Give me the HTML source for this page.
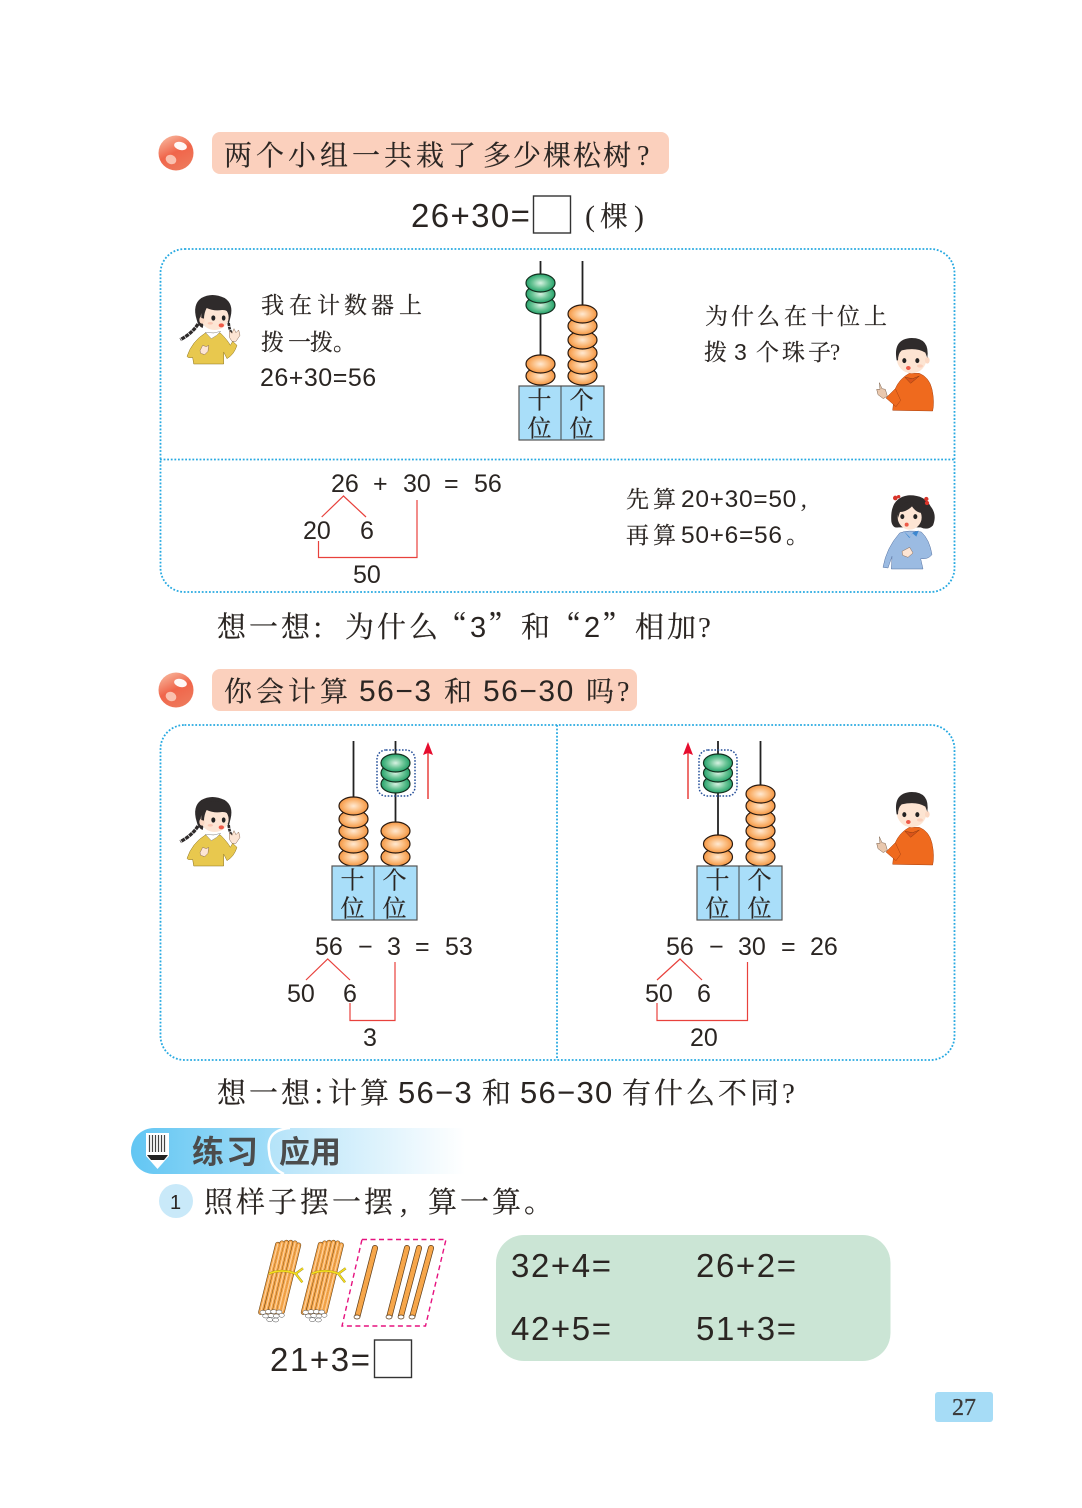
<!DOCTYPE html>
<html><head><meta charset="utf-8"><style>
html,body{margin:0;padding:0;background:#fff}
svg{display:block}
text{fill:#2a2522}
.d{font-family:"Liberation Sans",sans-serif}
.s{font-family:"Liberation Serif","Noto Serif CJK SC",serif}
.k{font-family:"Noto Serif CJK SC","Liberation Serif",serif;stroke:#2a2522;stroke-width:.18}
.f{font-size:25px}
.b{font-size:33px;letter-spacing:1.6px}
</style></head><body>
<svg width="1082" height="1508" viewBox="0 0 1082 1508" xmlns="http://www.w3.org/2000/svg">
<defs>
<radialGradient id="go" cx=".5" cy=".5" r=".55"><stop offset="0" stop-color="#ffe9d2"/><stop offset=".5" stop-color="#fbbd80"/><stop offset="1" stop-color="#f38d34"/></radialGradient>
<radialGradient id="gg" cx=".5" cy=".5" r=".55"><stop offset="0" stop-color="#d8f2e2"/><stop offset=".5" stop-color="#6cc597"/><stop offset="1" stop-color="#149a60"/></radialGradient>
<linearGradient id="ball" x1=".2" y1="0" x2=".7" y2="1"><stop offset="0" stop-color="#f8b69c"/><stop offset=".5" stop-color="#f0654a"/><stop offset="1" stop-color="#ee7a5c"/></linearGradient>
<linearGradient id="band" x1="0" x2="1"><stop offset="0" stop-color="#62c6f3"/><stop offset=".45" stop-color="#a5def8"/><stop offset="1" stop-color="#fff"/></linearGradient>
<linearGradient id="tab2" x1="0" x2="1"><stop offset="0" stop-color="#b4e3f9"/><stop offset="1" stop-color="#fff"/></linearGradient>
<ellipse id="o" cx="0" cy="0" rx="14.5" ry="9" fill="url(#go)" stroke="#2a1a10" stroke-width="1.2"/>
<ellipse id="g" cx="0" cy="0" rx="14.5" ry="9" fill="url(#gg)" stroke="#14301f" stroke-width="1.2"/>
<g id="ballg">
<circle cx="0" cy="0" r="17.500" fill="url(#ball)"/>
<ellipse cx="4.500" cy="-7" rx="6.500" ry="4" fill="#fff" opacity=".95" transform="rotate(15 4.500 -7)"/>
<ellipse cx="-5" cy="6.500" rx="5.500" ry="4.500" fill="#fbd0c0" opacity=".85" transform="rotate(25 -5 6.500)"/>
</g>
<g id="box">
<rect x="0.5" y="0.5" width="85" height="54" fill="#a9def9" stroke="#555" stroke-width="1.2"/>
<line x1="42.5" y1="0" x2="42.5" y2="54" stroke="#444" stroke-width="1"/>
<text class="k" x="9" y="23" font-size="24">十</text><text class="k" x="51" y="23" font-size="24">个</text>
<text class="k" x="9" y="51" font-size="24">位</text><text class="k" x="51" y="51" font-size="24">位</text>
</g>
<g id="girl1" transform="translate(172,288) scale(.3333)">
<path d="M78 108 Q62 135 25 155" stroke="#2e2a2a" stroke-width="10" fill="none" stroke-dasharray="12 2"/>
<path d="M170 105 Q172 125 180 140" stroke="#2e2a2a" stroke-width="8" fill="none" stroke-dasharray="9 2"/>
<path d="M45 205 Q60 160 100 135 L145 135 Q168 158 175 172 L182 160 L195 172 Q186 200 165 212 L155 192 L155 228 L65 228 L62 208 Q50 212 45 205Z" fill="#e8c84e" stroke="#8a7020" stroke-width="1.500"/>
<path d="M100 133 L118 152 L134 142 L146 130 L125 135Z" fill="#fff" stroke="#888" stroke-width="1.500"/>
<path d="M84 188 L92 172 L103 176 L110 172 L108 190 L98 200 L86 196Z" fill="#fde5d4" stroke="#8a6a55" stroke-width="1.500"/>
<path d="M172 148 L172 128 L180 136 L186 122 L192 134 L200 126 L204 142 L192 160 L180 160Z" fill="#fde5d4" stroke="#8a6a55" stroke-width="1.500"/>
<path d="M74 95 Q60 50 88 30 Q120 12 158 30 Q185 48 176 85 L170 110 L150 60 L105 62 L92 120 Q78 115 74 95Z" fill="#2f2b2b"/>
<ellipse cx="128" cy="88" rx="42" ry="38" fill="#fde5d4"/>
<ellipse cx="90" cy="96" rx="8" ry="11" fill="#fcd9c4"/>
<path d="M88 90 Q85 45 115 35 Q160 28 175 70 L172 80 Q168 65 150 66 Q125 70 104 60 Q96 75 96 92Z" fill="#2f2b2b"/>
<ellipse cx="124" cy="90" rx="6" ry="8" fill="#222"/><ellipse cx="155" cy="90" rx="5.500" ry="8" fill="#222"/>
<ellipse cx="148" cy="112" rx="8" ry="6" fill="#ee5a48"/>
<ellipse cx="115" cy="106" rx="8" ry="4" fill="#fac8b4"/>
</g>
<g id="boy" transform="translate(870,332) scale(.3333)">
<path d="M68 235 L75 172 Q88 140 118 124 L148 124 Q178 136 186 172 Q194 210 188 237Z" fill="#ef6a1e" stroke="#a84010" stroke-width="1.500"/>
<path d="M76 170 L48 198 L78 224 L92 205Z" fill="#ef6a1e" stroke="#a84010" stroke-width="1.500"/>
<path d="M28 152 L36 170 L46 172 L52 192 L40 200 L24 188 L20 172 L30 172Z" fill="#e9c8ae" stroke="#7a5f4a" stroke-width="1.500"/>
<path d="M105 136 L122 154 L148 132 L128 140Z" fill="#d9541a" stroke="#8a3a10" stroke-width="1.500"/>
<ellipse cx="125" cy="78" rx="45" ry="46" fill="#fde4d2"/>
<ellipse cx="172" cy="85" rx="7" ry="10" fill="#fcd9c4"/>
<path d="M80 85 Q68 20 125 18 Q180 18 172 78 L166 62 Q140 45 95 55 Q84 65 84 85Z" fill="#2f2b2b"/>
<ellipse cx="103" cy="86" rx="6" ry="7.500" fill="#222"/><ellipse cx="142" cy="86" rx="6" ry="7.500" fill="#222"/>
<ellipse cx="115" cy="108" rx="7" ry="6" fill="#ee5a48"/>
<ellipse cx="150" cy="102" rx="9" ry="5" fill="#fbcfba"/>
</g>
<g id="bundlep">
<g fill="none" stroke-linecap="round">
<g stroke="#6a4518" stroke-width="15"><path d="M68 28 L17 232"/><path d="M81 24 L30 236"/><path d="M94 22 L43 238"/><path d="M107 22 L56 238"/><path d="M120 24 L69 236"/><path d="M131 30 L82 230"/></g>
<g stroke="#f6a64a" stroke-width="11.500"><path d="M68 28 L17 232"/><path d="M81 24 L30 236"/><path d="M94 22 L43 238"/><path d="M107 22 L56 238"/><path d="M120 24 L69 236"/><path d="M131 30 L82 230"/></g>
<g stroke="#fdd3a2" stroke-width="3.500"><path d="M68 28 L17 232"/><path d="M81 24 L30 236"/><path d="M94 22 L43 238"/><path d="M107 22 L56 238"/><path d="M120 24 L69 236"/><path d="M131 30 L82 230"/></g>
</g>
<g fill="#fff" stroke="#444" stroke-width="1.500"><ellipse cx="24" cy="232" rx="9" ry="6"/><ellipse cx="40" cy="230" rx="9" ry="6"/><ellipse cx="56" cy="230" rx="9" ry="6"/><ellipse cx="72" cy="231" rx="9" ry="6"/><ellipse cx="32" cy="243" rx="9" ry="6"/><ellipse cx="48" cy="242" rx="9" ry="6"/><ellipse cx="64" cy="243" rx="9" ry="6"/><ellipse cx="80" cy="241" rx="8" ry="6"/><ellipse cx="44" cy="254" rx="9" ry="6"/><ellipse cx="62" cy="255" rx="9" ry="6"/></g>
<path d="M42 116 Q80 100 122 116 L144 100 M122 116 L142 142" fill="none" stroke="#7a6a10" stroke-width="7"/>
<path d="M42 116 Q80 100 122 116 L144 100 M122 116 L142 142" fill="none" stroke="#f6de1e" stroke-width="5"/>
</g>
</defs>

<!-- section 1 header -->
<use href="#ballg" x="176" y="153"/>
<rect x="212" y="132" width="457" height="42" rx="8" fill="#fbd0bd"/>
<text class="k" y="165" font-size="28" x="224 256 288 320 352 384 416 448 483 513 543 573 603 633">两个小组一共栽了多少棵松树</text>
<text class="s" x="637" y="165" font-size="28">?</text>

<text class="d b" x="411" y="227" style="letter-spacing:1.400px">26+30=</text>
<rect x="533.500" y="196" width="37" height="37" fill="#fff" stroke="#333" stroke-width="1.4"/>
<text class="s" x="585" y="226" font-size="30">(</text>
<text class="k" x="600" y="226" font-size="28">棵</text>
<text class="s" x="634" y="226" font-size="30">)</text>

<!-- panel 1 -->
<rect x="160.500" y="249" width="794" height="343" rx="24" fill="none" stroke="#27a9e1" stroke-width="1.8" stroke-dasharray="1.8 1.8"/>
<line x1="160" y1="459.500" x2="955" y2="459.500" stroke="#27a9e1" stroke-width="1.8" stroke-dasharray="1.8 1.8"/>

<use href="#girl1"/>
<text class="k" y="313" font-size="23" x="261 289 317 344 371 399">我在计数器上</text>
<text class="k" y="350" font-size="23" x="261 288 310 333">拨一拨。</text>
<text class="d f" x="260" y="386" style="letter-spacing:.5px">26+30=56</text>

<!-- abacus 1 -->
<line x1="540.500" y1="261" x2="540.500" y2="386" stroke="#222" stroke-width="1.8"/>
<line x1="582.500" y1="261" x2="582.500" y2="386" stroke="#222" stroke-width="1.8"/>
<use href="#g" x="540.500" y="305"/><use href="#g" x="540.500" y="294"/><use href="#g" x="540.500" y="283"/>
<use href="#o" x="540.500" y="376"/><use href="#o" x="540.500" y="364"/>
<use href="#o" x="582.500" y="376"/><use href="#o" x="582.500" y="365"/><use href="#o" x="582.500" y="353"/><use href="#o" x="582.500" y="340"/><use href="#o" x="582.500" y="326"/><use href="#o" x="582.500" y="314"/>
<use href="#box" x="518.500" y="385.500"/>

<text class="k" y="324" font-size="23" x="705 731 757 784 811 837 864">为什么在十位上</text>
<text class="k" y="360" font-size="23" x="704">拨</text>
<text class="d" x="734" y="360" font-size="23">3</text>
<text class="k" y="360" font-size="23" x="756 782 808">个珠子</text>
<text class="s" x="830" y="360" font-size="23">?</text>
<use href="#boy"/>

<!-- formula 1 -->
<g class="d f">
<text x="331" y="492">26</text><text x="373" y="492">+</text><text x="403" y="492">30</text><text x="444" y="492">=</text><text x="474" y="492">56</text>
<text x="303" y="539">20</text><text x="360" y="539">6</text><text x="353" y="583">50</text>
</g>
<path d="M321.700 517 L343.500 496 L366 517" fill="none" stroke="#e8413c" stroke-width="1.2"/>
<path d="M318.500 541 V557.500 H417 V500" fill="none" stroke="#e8413c" stroke-width="1.2"/>

<text class="k" y="507" font-size="23" x="626 653">先算</text>
<text class="d" x="681" y="507" font-size="24.500" style="letter-spacing:.7px">20+30=50</text>
<text class="k" y="507" font-size="23" x="800">,</text>
<text class="k" y="543" font-size="23" x="626 653">再算</text>
<text class="d" x="681" y="543" font-size="24.500" style="letter-spacing:.7px">50+6=56</text>
<text class="k" y="543" font-size="23" x="786">。</text>

<!-- girl 2 -->
<g transform="translate(878,488) scale(.3333)">
<path d="M40 243 L42 205 L30 240 L15 238 Q25 180 65 135 Q90 125 130 132 Q155 155 162 200 Q150 215 128 212 L135 243Z" fill="#9bbbe2" stroke="#5570a0" stroke-width="1.500"/>
<path d="M40 100 Q35 30 90 22 Q140 20 158 55 Q178 80 165 112 Q150 128 128 118 L62 118 Q44 122 40 100Z" fill="#2f2b2b"/>
<ellipse cx="95" cy="88" rx="36" ry="37" fill="#fde5d4"/>
<path d="M60 90 Q58 50 90 42 Q120 40 132 75 Q115 75 102 55 Q85 72 66 72Z" fill="#2f2b2b"/>
<ellipse cx="73" cy="86" rx="6" ry="7.500" fill="#222"/><ellipse cx="112" cy="86" rx="6" ry="7.500" fill="#222"/>
<ellipse cx="86" cy="110" rx="6" ry="6" fill="#ee5a48"/>
<path d="M76 128 L96 148 L105 133 L122 128 L115 146 L104 136 L94 150Z" fill="#3c87d0"/>
<path d="M72 190 L95 178 L105 195 L90 208 L74 202Z" fill="#fde5d4" stroke="#8a6a55" stroke-width="1.500"/>
<circle cx="52" cy="30" r="7" fill="#d8342a"/><circle cx="62" cy="26" r="5" fill="#d8342a"/><circle cx="145" cy="33" r="6.500" fill="#d8342a"/><circle cx="147" cy="45" r="6.500" fill="#d8342a"/>
</g>

<text class="k" y="637" font-size="29" x="217 249 281 313 345 377 409">想一想:为什么</text>
<text class="k" y="637" font-size="29" x="438">“</text><text class="d" x="470" y="637" font-size="29">3</text><text class="k" y="637" font-size="29" x="488">”</text>
<text class="k" y="637" font-size="29" x="521">和</text>
<text class="k" y="637" font-size="29" x="552">“</text><text class="d" x="584" y="637" font-size="29">2</text><text class="k" y="637" font-size="29" x="602">”</text>
<text class="k" y="637" font-size="29" x="635 667">相加</text><text class="s" x="698" y="637" font-size="29">?</text>

<!-- section 2 header -->
<use href="#ballg" x="176" y="690"/>
<rect x="212" y="669" width="425" height="42" rx="8" fill="#fbd0bd"/>
<text class="k" y="701" font-size="28" x="224 256 288 320">你会计算</text>
<text class="d" x="359" y="701" font-size="30" style="letter-spacing:1.500px">56−3</text>
<text class="k" y="701" font-size="28" x="444">和</text>
<text class="d" x="483" y="701" font-size="30" style="letter-spacing:1.500px">56−30</text>
<text class="k" y="701" font-size="28" x="586">吗</text>
<text class="s" x="617" y="701" font-size="28">?</text>

<!-- panel 2 -->
<rect x="160.500" y="725" width="794" height="335" rx="24" fill="none" stroke="#27a9e1" stroke-width="1.8" stroke-dasharray="1.8 1.8"/>
<line x1="557" y1="725" x2="557" y2="1060" stroke="#27a9e1" stroke-width="1.8" stroke-dasharray="1.8 1.8"/>

<g transform="translate(0,502)"><use href="#girl1"/></g>
<g transform="translate(0,454)"><use href="#boy"/></g>

<!-- abacus 2 -->
<line x1="353.500" y1="741" x2="353.500" y2="866" stroke="#222" stroke-width="1.8"/>
<line x1="395.500" y1="741" x2="395.500" y2="866" stroke="#222" stroke-width="1.8"/>
<use href="#o" x="353.500" y="857"/><use href="#o" x="353.500" y="844"/><use href="#o" x="353.500" y="831"/><use href="#o" x="353.500" y="819"/><use href="#o" x="353.500" y="806"/>
<use href="#o" x="395.500" y="857"/><use href="#o" x="395.500" y="844"/><use href="#o" x="395.500" y="831"/>
<use href="#g" x="395.500" y="784"/><use href="#g" x="395.500" y="773"/><use href="#g" x="395.500" y="763"/>
<rect x="377" y="750" width="38" height="46" rx="9" fill="none" stroke="#27509a" stroke-width="1.500" stroke-dasharray="1.600 1.600"/>
<use href="#box" x="331.500" y="865.500"/>
<line x1="428" y1="751" x2="428" y2="799" stroke="#e8413c" stroke-width="1.500"/>
<path d="M428 742 L433 755 L428 753 L423 755Z" fill="#e60d2e"/>

<!-- abacus 3 -->
<line x1="718" y1="741" x2="718" y2="866" stroke="#222" stroke-width="1.8"/>
<line x1="760.500" y1="741" x2="760.500" y2="866" stroke="#222" stroke-width="1.8"/>
<use href="#o" x="718" y="857"/><use href="#o" x="718" y="844"/>
<use href="#g" x="718" y="784"/><use href="#g" x="718" y="773"/><use href="#g" x="718" y="763"/>
<rect x="699" y="750" width="38" height="46" rx="9" fill="none" stroke="#27509a" stroke-width="1.500" stroke-dasharray="1.600 1.600"/>
<use href="#o" x="760.500" y="857"/><use href="#o" x="760.500" y="844"/><use href="#o" x="760.500" y="831"/><use href="#o" x="760.500" y="819"/><use href="#o" x="760.500" y="806"/><use href="#o" x="760.500" y="794"/>
<use href="#box" x="696.500" y="865.500"/>
<line x1="688" y1="751" x2="688" y2="799" stroke="#e8413c" stroke-width="1.500"/>
<path d="M688 742 L693 755 L688 753 L683 755Z" fill="#e60d2e"/>

<!-- formula 2 -->
<g class="d f">
<text x="315" y="955">56</text><text x="358" y="955">−</text><text x="387" y="955">3</text><text x="415" y="955">=</text><text x="445" y="955">53</text>
<text x="287" y="1002">50</text><text x="343" y="1002">6</text><text x="363" y="1046">3</text>
<text x="666" y="955">56</text><text x="709" y="955">−</text><text x="738" y="955">30</text><text x="781" y="955">=</text><text x="810" y="955">26</text>
<text x="645" y="1002">50</text><text x="697" y="1002">6</text><text x="690" y="1046">20</text>
</g>
<path d="M306 980 L327.700 959 L350 980" fill="none" stroke="#e8413c" stroke-width="1.200"/>
<path d="M350 1003 V1020.500 H395 V962" fill="none" stroke="#e8413c" stroke-width="1.200"/>
<path d="M657 980 L680 959 L702 980" fill="none" stroke="#e8413c" stroke-width="1.200"/>
<path d="M657 1003 V1020.500 H747.500 V962" fill="none" stroke="#e8413c" stroke-width="1.200"/>

<text class="k" y="1103" font-size="29" x="217 249 281 314 328 360">想一想:计算</text>
<text class="d" x="398" y="1103" font-size="31" style="letter-spacing:1.300px">56−3</text>
<text class="k" y="1103" font-size="29" x="482">和</text>
<text class="d" x="520" y="1103" font-size="31" style="letter-spacing:1.300px">56−30</text>
<text class="k" y="1103" font-size="29" x="622 654 686 718 750">有什么不同</text>
<text class="s" x="782" y="1103" font-size="29">?</text>

<!-- practice band -->
<path d="M154 1128 H465 V1174 H154 A23 23 0 0 1 154 1128Z" fill="url(#band)"/>
<path d="M290 1128 Q266 1130 269 1151 Q270 1168 284 1174 H465 V1128Z" fill="url(#tab2)" stroke="none"/>
<path d="M290 1128 Q266 1130 269 1151 Q270 1168 284 1174" fill="none" stroke="#fff" stroke-width="2.500"/>
<path d="M146 1133 H169 V1156 L157.500 1169 L146 1156Z" fill="#fff"/>
<path d="M149.500 1135 V1152 M152.500 1135 V1152 M155.500 1135 V1152 M158.500 1135 V1152 M161.500 1135 V1152 M164.500 1135 V1152" stroke="#444" stroke-width="1.200"/>
<path d="M147 1155 H168 L164 1160 H151Z" fill="#222"/>
<text x="192" y="1163" font-size="32" font-weight="700" letter-spacing="2" style="font-family:'Noto Sans CJK SC',sans-serif;fill:#4c4c4c">练习</text>
<text x="279" y="1163" font-size="31" font-weight="700" style="font-family:'Noto Sans CJK SC',sans-serif;fill:#4c4c4c">应用</text>

<circle cx="176" cy="1201" r="17" fill="#c9e9f9"/>
<text class="d" x="170" y="1209" font-size="20">1</text>
<text class="k" y="1212" font-size="29" x="204 236 268 300 332 364 399 428 460 492 524">照样子摆一摆,算一算。</text>

<!-- sticks -->
<g transform="translate(255,1235) scale(.3333)"><use href="#bundlep"/></g>
<g transform="translate(297.700,1235) scale(.3333)"><use href="#bundlep"/></g>
<path d="M362 1239.500 H446 L425.500 1326 H342Z" fill="none" stroke="#e6127f" stroke-width="1.400" stroke-dasharray="5 3.500"/>
<g stroke-linecap="round">
<g stroke="#5a3a18" stroke-width="6"><line x1="375" y1="1248" x2="357.500" y2="1316"/><line x1="407" y1="1248" x2="389.500" y2="1316"/><line x1="419" y1="1248" x2="401" y2="1316"/><line x1="431" y1="1248" x2="412.500" y2="1316"/></g>
<g stroke="#f6a64a" stroke-width="4.600"><line x1="375" y1="1248" x2="357.500" y2="1316"/><line x1="407" y1="1248" x2="389.500" y2="1316"/><line x1="419" y1="1248" x2="401" y2="1316"/><line x1="431" y1="1248" x2="412.500" y2="1316"/></g>
</g>
<g fill="#fff" stroke="#5a3a18" stroke-width=".7"><ellipse cx="357" cy="1317" rx="3" ry="2"/><ellipse cx="389" cy="1317" rx="3" ry="2"/><ellipse cx="401" cy="1317" rx="3" ry="2"/><ellipse cx="412" cy="1317" rx="3" ry="2"/></g>

<text class="d b" x="270" y="1371">21+3=</text>
<rect x="374.500" y="1340" width="37" height="37.500" fill="#fff" stroke="#333" stroke-width="1.400"/>

<rect x="496" y="1235" width="394.500" height="126" rx="28" fill="#cbe5d5"/>
<g class="d b">
<text x="511" y="1277">32+4=</text><text x="696" y="1277">26+2=</text>
<text x="511" y="1340">42+5=</text><text x="696" y="1340">51+3=</text>
</g>

<rect x="935" y="1392" width="58" height="30" rx="3" fill="#a6dcf6"/>
<text x="964" y="1415" font-size="24" text-anchor="middle" class="s" style="fill:#3a3a3a;stroke:#3a3a3a;stroke-width:.3">27</text>
</svg>
</body></html>
